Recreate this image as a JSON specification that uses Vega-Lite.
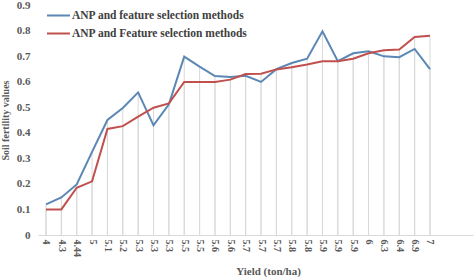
{
  "$schema": "https://vega.github.io/schema/vega-lite/v6.json",
  "width": 435,
  "height": 230,
  "autosize": {"type": "none"},
  "padding": {"left": 38, "top": 5, "right": 1, "bottom": 44},
  "background": "white",
  "config": {"view": {"stroke": null}, "font": "Liberation Serif"},
  "data": {
    "values": [
      {"idx": 0, "yield": "4", "series": "ANP and feature selection methods", "value": 0.12},
      {"idx": 1, "yield": "4.3", "series": "ANP and feature selection methods", "value": 0.147},
      {"idx": 2, "yield": "4.44", "series": "ANP and feature selection methods", "value": 0.198},
      {"idx": 3, "yield": "5", "series": "ANP and feature selection methods", "value": 0.325},
      {"idx": 4, "yield": "5.1", "series": "ANP and feature selection methods", "value": 0.45},
      {"idx": 5, "yield": "5.2", "series": "ANP and feature selection methods", "value": 0.497},
      {"idx": 6, "yield": "5.3", "series": "ANP and feature selection methods", "value": 0.558},
      {"idx": 7, "yield": "5.3", "series": "ANP and feature selection methods", "value": 0.429},
      {"idx": 8, "yield": "5.3", "series": "ANP and feature selection methods", "value": 0.511},
      {"idx": 9, "yield": "5.5", "series": "ANP and feature selection methods", "value": 0.698},
      {"idx": 10, "yield": "5.5", "series": "ANP and feature selection methods", "value": 0.659},
      {"idx": 11, "yield": "5.6", "series": "ANP and feature selection methods", "value": 0.622},
      {"idx": 12, "yield": "5.6", "series": "ANP and feature selection methods", "value": 0.618},
      {"idx": 13, "yield": "5.7", "series": "ANP and feature selection methods", "value": 0.623},
      {"idx": 14, "yield": "5.7", "series": "ANP and feature selection methods", "value": 0.599},
      {"idx": 15, "yield": "5.7", "series": "ANP and feature selection methods", "value": 0.649},
      {"idx": 16, "yield": "5.8", "series": "ANP and feature selection methods", "value": 0.673},
      {"idx": 17, "yield": "5.8", "series": "ANP and feature selection methods", "value": 0.69},
      {"idx": 18, "yield": "5.9", "series": "ANP and feature selection methods", "value": 0.797},
      {"idx": 19, "yield": "5.9", "series": "ANP and feature selection methods", "value": 0.68},
      {"idx": 20, "yield": "5.9", "series": "ANP and feature selection methods", "value": 0.711},
      {"idx": 21, "yield": "6", "series": "ANP and feature selection methods", "value": 0.719},
      {"idx": 22, "yield": "6.3", "series": "ANP and feature selection methods", "value": 0.699},
      {"idx": 23, "yield": "6.4", "series": "ANP and feature selection methods", "value": 0.696},
      {"idx": 24, "yield": "6.9", "series": "ANP and feature selection methods", "value": 0.728},
      {"idx": 25, "yield": "7", "series": "ANP and feature selection methods", "value": 0.649},
      {"idx": 0, "yield": "4", "series": "ANP and Feature selection methods", "value": 0.10},
      {"idx": 1, "yield": "4.3", "series": "ANP and Feature selection methods", "value": 0.10},
      {"idx": 2, "yield": "4.44", "series": "ANP and Feature selection methods", "value": 0.185},
      {"idx": 3, "yield": "5", "series": "ANP and Feature selection methods", "value": 0.21},
      {"idx": 4, "yield": "5.1", "series": "ANP and Feature selection methods", "value": 0.415},
      {"idx": 5, "yield": "5.2", "series": "ANP and Feature selection methods", "value": 0.426},
      {"idx": 6, "yield": "5.3", "series": "ANP and Feature selection methods", "value": 0.463},
      {"idx": 7, "yield": "5.3", "series": "ANP and Feature selection methods", "value": 0.498},
      {"idx": 8, "yield": "5.3", "series": "ANP and Feature selection methods", "value": 0.515},
      {"idx": 9, "yield": "5.5", "series": "ANP and Feature selection methods", "value": 0.599},
      {"idx": 10, "yield": "5.5", "series": "ANP and Feature selection methods", "value": 0.599},
      {"idx": 11, "yield": "5.6", "series": "ANP and Feature selection methods", "value": 0.599},
      {"idx": 12, "yield": "5.6", "series": "ANP and Feature selection methods", "value": 0.608},
      {"idx": 13, "yield": "5.7", "series": "ANP and Feature selection methods", "value": 0.63},
      {"idx": 14, "yield": "5.7", "series": "ANP and Feature selection methods", "value": 0.631},
      {"idx": 15, "yield": "5.7", "series": "ANP and Feature selection methods", "value": 0.648},
      {"idx": 16, "yield": "5.8", "series": "ANP and Feature selection methods", "value": 0.656},
      {"idx": 17, "yield": "5.8", "series": "ANP and Feature selection methods", "value": 0.667},
      {"idx": 18, "yield": "5.9", "series": "ANP and Feature selection methods", "value": 0.68},
      {"idx": 19, "yield": "5.9", "series": "ANP and Feature selection methods", "value": 0.68},
      {"idx": 20, "yield": "5.9", "series": "ANP and Feature selection methods", "value": 0.69},
      {"idx": 21, "yield": "6", "series": "ANP and Feature selection methods", "value": 0.711},
      {"idx": 22, "yield": "6.3", "series": "ANP and Feature selection methods", "value": 0.723},
      {"idx": 23, "yield": "6.4", "series": "ANP and Feature selection methods", "value": 0.726},
      {"idx": 24, "yield": "6.9", "series": "ANP and Feature selection methods", "value": 0.775},
      {"idx": 25, "yield": "7", "series": "ANP and Feature selection methods", "value": 0.78}
    ]
  },
  "encoding": {
    "x": {
      "field": "idx",
      "type": "quantitative",
      "scale": {"domain": [-0.52, 27.8], "nice": false, "zero": false},
      "axis": {
        "title": "Yield (ton/ha)",
        "titleFont": "Liberation Serif",
        "titleFontSize": 11,
        "titleFontWeight": "bold",
        "titleColor": "#595959",
        "titleX": 230,
        "titlePadding": 9,
        "values": [0,1,2,3,4,5,6,7,8,9,10,11,12,13,14,15,16,17,18,19,20,21,22,23,24,25],
        "labelExpr": "['4','4.3','4.44','5','5.1','5.2','5.3','5.3','5.3','5.5','5.5','5.6','5.6','5.7','5.7','5.7','5.8','5.8','5.9','5.9','5.9','6','6.3','6.4','6.9','7'][datum.value]",
        "labelAngle": 90,
        "labelFont": "Liberation Serif",
        "labelFontSize": 10,
        "labelFontWeight": "bold",
        "labelColor": "#595959",
        "labelPadding": 4,
        "labelOverlap": false,
        "labelFlush": false,
        "ticks": false,
        "grid": false,
        "domainColor": "#d9d9d9",
        "domainWidth": 1
      }
    },
    "y": {
      "field": "value",
      "type": "quantitative",
      "scale": {"domain": [0, 0.9], "nice": false},
      "axis": {
        "title": "Soil fertility values",
        "titleFont": "Liberation Serif",
        "titleFontSize": 10,
        "titleFontWeight": "bold",
        "titleColor": "#595959",
        "titlePadding": 6,
        "values": [0, 0.1, 0.2, 0.3, 0.4, 0.5, 0.6, 0.7, 0.8, 0.9],
        "labelExpr": "datum.value == 0 ? '0' : format(datum.value, '.1f')",
        "labelFont": "Liberation Serif",
        "labelFontSize": 11,
        "labelFontWeight": "bold",
        "labelColor": "#595959",
        "labelPadding": 8,
        "ticks": false,
        "domain": false,
        "grid": false
      }
    }
  },
  "layer": [
    {
      "mark": {"type": "rule", "color": "#d9d9d9", "strokeWidth": 1},
      "encoding": {"y2": {"datum": 0}}
    },
    {
      "mark": {"type": "line", "strokeWidth": 2},
      "encoding": {
        "color": {
          "field": "series",
          "type": "nominal",
          "scale": {
            "domain": ["ANP and feature selection methods", "ANP and Feature selection methods"],
            "range": ["#5b87b5", "#c0504d"]
          },
          "legend": {
            "title": null,
            "orient": "none",
            "legendX": 8,
            "legendY": -2,
            "symbolType": "M-1,0H1",
            "symbolSize": 529,
            "symbolStrokeWidth": 2,
            "labelFont": "Liberation Serif",
            "labelFontSize": 11.5,
            "labelFontWeight": "bold",
            "labelColor": "#404040",
            "labelLimit": 0,
            "labelOffset": 1,
            "rowPadding": -4
          }
        }
      }
    }
  ]
}
